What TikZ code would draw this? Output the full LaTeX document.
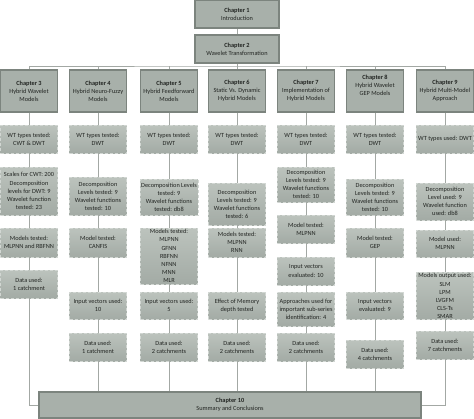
\documentclass[tikz,border=0pt]{standalone}
\usepackage{fontspec}
\setmainfont{Carlito}
\definecolor{chapfill}{HTML}{A8B0AA}
\definecolor{chapedge}{HTML}{7C847E}
\definecolor{boxtop}{HTML}{BCC3BD}
\definecolor{boxbot}{HTML}{A3ABA5}
\definecolor{boxedge}{HTML}{D2D7D3}
\definecolor{linkgray}{HTML}{A3A8A4}
\definecolor{textdark}{HTML}{222522}
\tikzset{
	chapbox/.style={draw=chapedge, line width=1.2pt, fill=chapfill, text=textdark,
		align=center, inner sep=1pt, minimum width=57pt,
		font=\fontsize{6.3}{8.1}\selectfont},
	infobox/.style={draw=boxedge, densely dashed, line width=0.4pt,
		top color=boxtop, bottom color=boxbot, text=textdark,
		align=center, inner sep=1pt, minimum width=57pt,
		font=\fontsize{6.3}{8.1}\selectfont},
	link/.style={draw=linkgray, line width=0.8pt}
}
\begin{document}
\begin{tikzpicture}[x=1pt,y=-1pt]
			\useasboundingbox (0,0) rectangle (474,418);
			\node[chapbox, minimum width=84pt, minimum height=28pt] (ch1) at (237,14) {\textbf{Chapter 1}\\Introduction};
			\node[chapbox, minimum width=84pt, minimum height=28pt] (ch2) at (237,49) {\textbf{Chapter 2}\\Wavelet Transformation};
			\coordinate (bus) at (237,66);
			\node[chapbox, minimum height=42pt] (ch3) at (29,91) {\textbf{Chapter 3}\\Hybrid Wavelet\\Models};
			\node[chapbox, minimum height=42pt] (ch4) at (98,91) {\textbf{Chapter 4}\\Hybrid Neuro-Fuzzy\\Models};
			\node[chapbox, minimum height=42pt] (ch5) at (169,91) {\textbf{Chapter 5}\\Hybrid Feedforward\\Models};
			\node[chapbox, minimum height=42pt] (ch6) at (237,91) {\textbf{Chapter 6}\\Static Vs. Dynamic\\Hybrid Models};
			\node[chapbox, minimum height=42pt] (ch7) at (306,91) {\textbf{Chapter 7}\\Implementation of\\Hybrid Models};
			\node[chapbox, minimum height=42pt] (ch8) at (375,91) {\textbf{Chapter 8}\\Hybrid Wavelet\\GEP Models\\[3pt]};
			\node[chapbox, minimum height=42pt] (ch9) at (445,91) {\textbf{Chapter 9}\\Hybrid Multi-Model\\Approach};
			\node[chapbox, minimum width=382pt, minimum height=26pt] (ch10) at (230,405) {\textbf{Chapter 10}\\Summary and Conclusions};
			% WT types
			\node[infobox, minimum height=28pt] (a3) at (29,139) {WT types tested:\\CWT \& DWT};
			\node[infobox, minimum height=28pt] (a4) at (98,139) {WT types tested:\\DWT};
			\node[infobox, minimum height=28pt] (a5) at (169,139) {WT types tested:\\DWT};
			\node[infobox, minimum height=28pt] (a6) at (237,139) {WT types tested:\\DWT};
			\node[infobox, minimum height=28pt] (a7) at (306,139) {WT types tested:\\DWT};
			\node[infobox, minimum height=28pt] (a8) at (375,139) {WT types tested:\\DWT};
			\node[infobox, minimum height=28pt] (a9) at (445,139) {WT types used: DWT};
			% decomposition
			\node[infobox, minimum height=48pt] (b3) at (29,191) {Scales for CWT: 200\\Decomposition\\levels for DWT: 9\\Wavelet function\\tested: 23};
			\node[infobox, minimum height=38pt] (b4) at (98,196) {Decomposition\\Levels tested: 9\\Wavelet functions\\tested: 10};
			\node[infobox, minimum height=36pt] (b5) at (169,197.5) {Decomposition Levels\\tested: 9\\Wavelet functions\\tested: db8};
			\node[infobox, minimum height=42pt] (b6) at (237,204) {Decomposition\\Levels tested: 9\\Wavelet functions\\tested: 6};
			\node[infobox, minimum height=35pt] (b7) at (306,184.5) {Decomposition\\Levels tested: 9\\Wavelet functions\\tested: 10};
			\node[infobox, minimum height=36pt] (b8) at (375,197) {Decomposition\\Levels tested: 9\\Wavelet functions\\tested: 10};
			\node[infobox, minimum height=37pt] (b9) at (445,201.5) {Decomposition\\Level used: 9\\Wavelet function\\used: db8};
			% models
			\node[infobox, minimum height=29pt] (c3) at (29,242.5) {Models tested:\\MLPNN and RBFNN};
			\node[infobox, minimum height=29pt] (c4) at (98,242.5) {Model tested:\\CANFIS};
			\node[infobox, minimum height=56pt] (c5) at (169,256) {Models tested:\\MLPNN\\GFNN\\RBFNN\\NFNN\\MNN\\MLR};
			\node[infobox, minimum height=29pt] (c6) at (237,242.5) {Models tested:\\MLPNN\\RNN};
			\node[infobox, minimum height=28pt] (c7) at (306,229) {Model tested:\\MLPNN};
			\node[infobox, minimum height=29pt] (c8) at (375,242.5) {Model tested:\\GEP};
			\node[infobox, minimum height=27pt] (c9) at (445,243.5) {Model used:\\MLPNN};
			% inputs and data
			\node[infobox, minimum height=28pt] (d3) at (29,284) {Data used:\\1 catchment};
			\node[infobox, minimum height=27pt] (d4) at (98,305.5) {Input vectors used:\\10};
			\node[infobox, minimum height=27pt] (d5) at (169,305.5) {Input vectors used:\\5};
			\node[infobox, minimum height=27pt] (d6) at (237,305.5) {Effect of Memory\\depth tested};
			\node[infobox, minimum height=28pt] (d7) at (306,271) {Input vectors\\evaluated: 10};
			\node[infobox, minimum height=27pt] (d8) at (375,305.5) {Input vectors\\evaluated: 9};
			\node[infobox, minimum height=46pt] (d9) at (445,296) {Models output used:\\SLM\\LPM\\LVGFM\\CLS-Ts\\SMAR};
			\node[infobox, minimum height=28pt] (e4) at (98,347) {Data used:\\1 catchment};
			\node[infobox, minimum height=28pt] (e5) at (169,347) {Data used:\\2 catchments};
			\node[infobox, minimum height=28pt] (e6) at (237,347) {Data used:\\2 catchments};
			\node[infobox, minimum height=34pt] (e7) at (306,309) {Approaches used for\\important sub-series\\identification: 4};
			\node[infobox, minimum height=28pt] (e8) at (375,354) {Data used:\\4 catchments};
			\node[infobox, minimum height=28pt] (e9) at (445,345) {Data used:\\7 catchments};
			\node[infobox, minimum height=28pt] (f7) at (306,347) {Data used:\\2 catchments};
			% connectors
			\draw[link] (ch1) -- (ch2);
			\draw[link] (ch2) -- (ch2 |- bus);
			\draw[link] (ch3.north) |- (bus) -| (ch9.north);
			\draw[link] (ch4) -- (ch4 |- bus);
			\draw[link] (ch5) -- (ch5 |- bus);
			\draw[link] (ch6) -- (ch6 |- bus);
			\draw[link] (ch7) -- (ch7 |- bus);
			\draw[link] (ch8) -- (ch8 |- bus);
			\draw[link] (ch3) -- (a3) -- (b3) -- (c3) -- (d3);
			\draw[link] (ch4) -- (a4) -- (b4) -- (c4) -- (d4) -- (e4);
			\draw[link] (ch5) -- (a5) -- (b5) -- (c5) -- (d5) -- (e5);
			\draw[link] (ch6) -- (a6) -- (b6) -- (c6) -- (d6) -- (e6);
			\draw[link] (ch7) -- (a7) -- (b7) -- (c7) -- (d7) -- (e7) -- (f7);
			\draw[link] (ch8) -- (a8) -- (b8) -- (c8) -- (d8) -- (e8);
			\draw[link] (ch9) -- (a9) -- (b9) -- (c9) -- (d9) -- (e9);
			\draw[link] (d3) |- (ch10);
			\draw[link] (e9) |- (ch10);
			\draw[link] (e4) -- (e4 |- ch10.north);
			\draw[link] (e5) -- (e5 |- ch10.north);
			\draw[link] (e6) -- (e6 |- ch10.north);
			\draw[link] (f7) -- (f7 |- ch10.north);
			\draw[link] (e8) -- (e8 |- ch10.north);
		\end{tikzpicture}
\end{document}
